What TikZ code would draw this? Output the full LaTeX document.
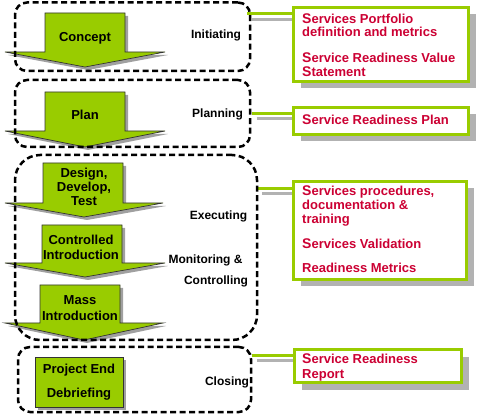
\documentclass[tikz,border=0pt]{standalone}
\usepackage{fontspec}
\setmainfont{Liberation Sans}
\usetikzlibrary{shadows,calc}
\definecolor{arrgreen}{HTML}{99CC00}
\definecolor{shadowgray}{HTML}{B2B2B2}
\definecolor{arrshadow}{HTML}{A0A0A0}
\definecolor{txtred}{HTML}{CC0033}
\pgfdeclarelayer{bg}
\pgfsetlayers{bg,main}
% #1 shaft left, #2 shaft right, #3 top, #4 shaft bottom, #5 wing left, #6 wing right, #7 tip y
\newcommand\greenarrow[7]{%
  \fill[arrowshadow] (#1+3,#3+3) -- (#2+3,#3+3) -- (#2+3,#4+3) -- (#6+3,#4+3)
     -- ({(#5+#6)/2+3},#7+3) -- (#5+3,#4+3) -- (#1+3,#4+3) -- cycle;
  \draw[garrow] (#1,#3) -- (#2,#3) -- (#2,#4) -- (#6,#4)
     -- ({(#5+#6)/2},#7) -- (#5,#4) -- (#1,#4) -- cycle;}
\newcommand\capS{{\fontsize{14}{13}\selectfont S}}
\begin{document}
\begin{tikzpicture}[x=1pt,y=-1pt,
  garrow/.style={fill=arrgreen, draw=black!80, line width=0.7pt, line join=miter},
  arrowshadow/.style={fill=arrshadow},
  phase/.style={draw=black, line width=2.5pt, dash pattern=on 6pt off 3.5pt,
     rounded corners=12pt, outer sep=0pt, inner sep=0pt, anchor=north west},
  alabel/.style={font=\fontsize{13}{13}\selectfont\bfseries, anchor=base, inner sep=0pt},
  plabel/.style={font=\fontsize{12}{12}\selectfont\bfseries, anchor=base, inner sep=0pt},
  rbox/.style={draw=arrgreen, line width=3pt, fill=white, anchor=north west,
     drop shadow={shadow xshift=7pt, shadow yshift=-7pt, fill=shadowgray, opacity=1}},
  rtext/.style={font=\fontsize{13}{13}\selectfont\bfseries, text=txtred, anchor=base west, inner sep=0pt},
  pebox/.style={fill=arrgreen, draw=black!80, line width=0.7pt, align=center,
     font=\fontsize{13}{13}\selectfont\bfseries,
     drop shadow={shadow xshift=3pt, shadow yshift=-3pt, fill=arrshadow, opacity=1}},
  link/.style={draw=arrgreen, line width=3pt},
  linkshadow/.style={draw=shadowgray, line width=3pt}
]
\useasboundingbox (0,0) rectangle (477,414);

% green phase arrows
\greenarrow{45}{125}{13}{52}{5}{165}{67}
\greenarrow{45}{125}{92}{131}{5}{165}{147}
\greenarrow{43}{123}{163}{203}{5}{163}{217}
\greenarrow{42}{122}{225}{263}{5}{165}{277}
\greenarrow{40}{120}{285}{323}{5}{163}{340}

\node[alabel] (tConcept) at (85,42) {Concept};
\node[alabel] (tPlan) at (85,120) {Plan};
\node[alabel] (tDes1) at (84,178) {Design,};
\node[alabel] (tDes2) at (84,192) {Develop,};
\node[alabel] (tDes3) at (84,205.5) {Test};
\node[alabel] (tCon1) at (81,245) {Controlled};
\node[alabel] (tCon2) at (81,259.5) {Introduction};
\node[alabel] (tMas1) at (80,305) {Mass};
\node[alabel] (tMas2) at (80,320) {Introduction};

% project end box
\node[pebox, minimum width=88pt, minimum height=50pt] (pe) at (79,382)
  {Project End\\[11pt]Debriefing};

% dashed phase boxes
\node[phase, minimum width=235pt, minimum height=68.5pt] (ph1) at (15,2.5) {};
\node[phase, minimum width=235pt, minimum height=67pt] (ph2) at (15,80) {};
\node[phase, minimum width=242pt, minimum height=185pt, rounded corners=25pt] (ph3) at (15,155) {};
\node[phase, minimum width=233pt, minimum height=65pt] (ph4) at (18,347) {};

% phase labels
\node[plabel] (lInit) at (216,39) {Initiating};
\node[plabel] (lPlan) at (217.5,118) {Planning};
\node[plabel] (lExec) at (218.5,220) {Executing};
\node[plabel] (lMon1) at (205.5,264) {Monitoring \&};
\node[plabel] (lMon2) at (216,285) {Controlling};
\node[plabel] (lClos) at (227,385) {Closing};

% right boxes
\node[rbox, minimum width=175pt, minimum height=74pt] (rA) at (292,6) {};
\node[rbox, minimum width=175pt, minimum height=27pt] (rB) at (292,106) {};
\node[rbox, minimum width=173pt, minimum height=98pt] (rC) at (292,180) {};
\node[rbox, minimum width=167pt, minimum height=33pt] (rD) at (293,348) {};

\node[rtext] (a1) at (302,24) {\capS ervices Portfolio};
\node[rtext] (a2) at (302,37) {definition and metrics};
\node[rtext] (a3) at (302,63) {\capS ervice Readiness Value};
\node[rtext] (a4) at (302,76.5) {\capS tatement};
\node[rtext] (b1) at (302,125) {\capS ervice Readiness Plan};
\node[rtext] (c1t) at (302,196) {\capS ervices procedures,};
\node[rtext] (c2t) at (302,210) {documentation \&};
\node[rtext] (c3t) at (302,224) {training};
\node[rtext] (c4t) at (302,249) {\capS ervices Validation};
\node[rtext] (c5t) at (302,273) {Readiness Metrics};
\node[rtext] (d1) at (302,363) {\capS ervice Readiness};
\node[rtext] (d2) at (302,378) {Report};

% connectors
\coordinate (k1) at (247,14);
\coordinate (k2) at (251.5,113.3);
\coordinate (k3) at (257,188.3);
\coordinate (k4) at (252,355);
\begin{pgfonlayer}{bg}
  \draw[linkshadow] ($(k1)+(5,5.5)$) -- ($(rA.west |- k1)+(0,5.5)$);
  \draw[linkshadow] ($(k2)+(5,5.5)$) -- ($(rB.west |- k2)+(0,5.5)$);
  \draw[linkshadow] ($(k3)+(5,5.5)$) -- ($(rC.west |- k3)+(0,5.5)$);
  \draw[linkshadow] ($(k4)+(5,5.5)$) -- ($(rD.west |- k4)+(0,5.5)$);
  \draw[link] (k1) -- (rA.west |- k1);
  \draw[link] (k2) -- (rB.west |- k2);
  \draw[link] (k3) -- (rC.west |- k3);
  \draw[link] (k4) -- (rD.west |- k4);
\end{pgfonlayer}
\end{tikzpicture}
\end{document}
